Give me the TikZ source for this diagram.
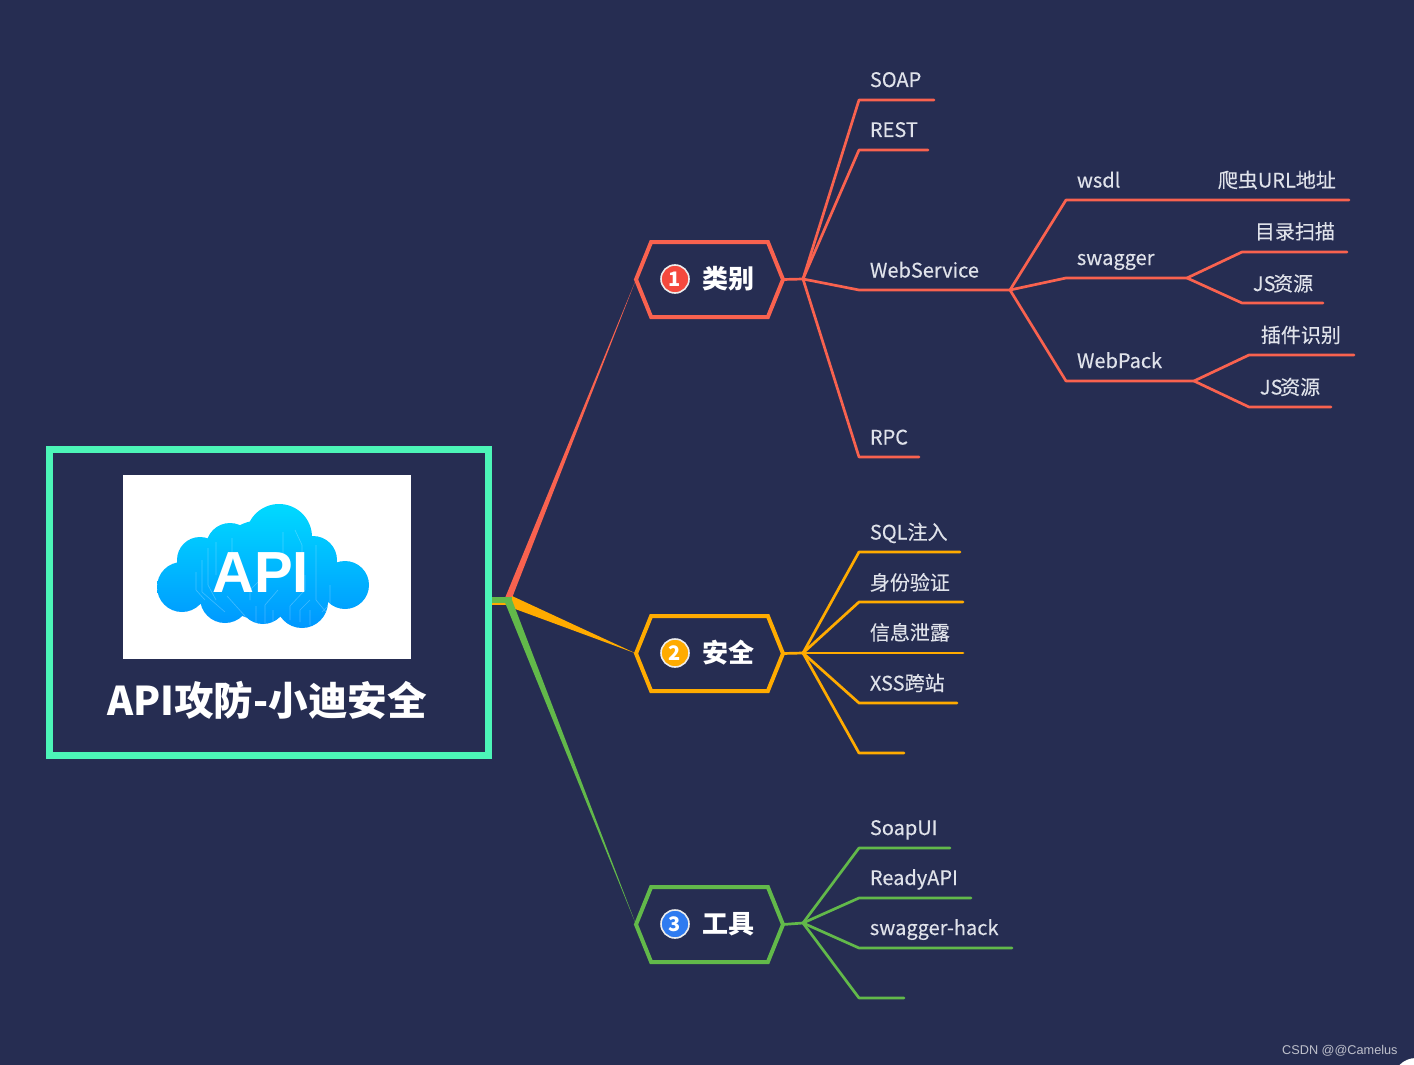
\documentclass[tikz,border=0pt]{standalone}
\usepackage{fontspec}
\setmainfont{Noto Sans CJK SC}
\newfontfamily\markfont{Liberation Sans}
\usetikzlibrary{shapes.symbols}
\definecolor{bgc}{HTML}{262D52}
\definecolor{mint}{HTML}{4CF5B8}
\definecolor{redc}{HTML}{F9624F}
\definecolor{orgc}{HTML}{FFAB00}
\definecolor{grnc}{HTML}{62B94A}
\definecolor{txtc}{HTML}{DFE2EA}
\definecolor{badgeR}{HTML}{F5493D}
\definecolor{badgeB}{HTML}{2F7BF0}
\tikzset{
  hexbox/.style={draw=#1,line width=2pt,signal,signal to=east and west,signal pointer angle=136,
     minimum width=147*0.5pt,minimum height=75*0.5pt,inner sep=0pt,outer sep=0pt,line join=miter},
  branch/.style={draw=#1,line width=1.35pt,line join=round,line cap=round},
  leaf/.style={anchor=base west,text=txtc,inner sep=0pt,font=\fontsize{10}{12}\selectfont\addfontfeature{FakeBold=0.25}},
  hextext/.style={anchor=center,text=white,inner sep=0pt,font=\fontsize{13}{15}\selectfont\bfseries},
  badge/.style={circle,draw=white!85!gray,line width=0.8pt,fill=#1,minimum size=14pt,inner sep=0pt,
     text=white,font=\fontsize{10}{12}\selectfont\bfseries}
}
\begin{document}
\begin{tikzpicture}[x=0.5pt,y=-0.5pt]
\fill[bgc] (0,0) rectangle (1414,1065);
\useasboundingbox (0,0) rectangle (1414,1065);
% root
\node[draw=mint,line width=3.5pt,minimum width=439.5*0.5pt,minimum height=306*0.5pt,inner sep=0pt,outer sep=0pt] (root) at (268.75,602.5) {};
\node[fill=white,minimum width=288*0.5pt,minimum height=184*0.5pt,inner sep=0pt] (img) at (267,567) {};
\begin{scope}
\clip (182,587) circle[radius=25] (279,537) circle[radius=33] (230,547) circle[radius=24]
      (200,560) circle[radius=23] (313,560) circle[radius=24] (345,585) circle[radius=24]
      (225,598) circle[radius=25] (263,600) circle[radius=24] (302,602) circle[radius=26]
      (262,570) circle[radius=50] (215,575) circle[radius=30] (310,575) circle[radius=30];
\shade[top color={rgb,255:red,0;green,218;blue,255},bottom color={rgb,255:red,0;green,150;blue,255}] (150,503) rectangle (375,630);
\draw[white,opacity=.25,line width=.3pt]
  (196,572)--(196,590)--(205,600)  (202,560)--(202,592)--(225,612)
  (208,548)--(208,585)--(216,600)  (216,542)--(216,575)
  (232,538)--(232,560)  (227,596)--(245,616)--(245,625)
  (250,600)--(250,590)--(262,578)  (256,628)--(256,606)  (265,628)--(265,605)--(278,590)
  (273,628)--(273,610)  (283,532)--(283,560)  (295,530)--(302,545)--(302,570)
  (290,620)--(290,606)--(305,590)--(305,575)  (300,622)--(300,610)--(310,600)
  (310,625)--(310,610)  (316,545)--(316,600)--(326,612)  (330,585)--(330,604)--(322,612);
\end{scope}
\node[text=white,inner sep=0pt,font=\fontsize{29}{34}\selectfont\markfont\bfseries] (apilogo) at (260.5,573) {API};
\node[text=white,inner sep=0pt,font=\fontsize{19.8}{24}\selectfont\bfseries] (title) at (267,700) {API攻防-小迪安全};
% hexagons
\node[hexbox=redc] (h1) at (709.5,279.5) {};
\node[hexbox=orgc] (h2) at (709.5,653.5) {};
\node[hexbox=grnc] (h3) at (709.5,924.5) {};
\node[badge=badgeR] (b1) at (675,279) {1};
\node[badge=orgc] (b2) at (675,653) {2};
\node[badge=badgeB] (b3) at (675,924) {3};
\node[hextext] (t1) at (728,279) {类别};
\node[hextext] (t2) at (728,653) {安全};
\node[hextext] (t3) at (728,924) {工具};
% main tapered branches
\coordinate (trunkL) at (492,601);
\coordinate (trunkR) at (509,601);
\coordinate (trunkG) at (492,600);
\draw[orgc,line width=4pt] (trunkL) -- (trunkR);
\coordinate (ra) at (505,598); \coordinate (rb) at (512,598);
\coordinate (oa) at (512,596); \coordinate (ob) at (507,606);
\coordinate (ga) at (504,600); \coordinate (gb) at (512,600);
\fill[redc] (ra) -- (h1.west) -- (rb) -- cycle;
\fill[orgc] (oa) -- (h2.west) -- (ob) -- cycle;
\draw[grnc,line width=3pt] (trunkG) -- (gb);
\fill[grnc] (ga) -- (h3.west) -- (gb) -- cycle;
% branch 1
\coordinate (f1) at (803,279);
\coordinate (a1) at (859,100); \coordinate (a2) at (859,150); \coordinate (a3) at (859,290); \coordinate (a4) at (859,457);
\coordinate (e1) at (934,100); \coordinate (e2) at (928,150); \coordinate (f2) at (1010,290); \coordinate (e4) at (919,457);
\coordinate (c1) at (1066,200); \coordinate (c2) at (1066,278); \coordinate (c3) at (1066,381);
\coordinate (e5) at (1349,200); \coordinate (f3) at (1187,278); \coordinate (f4) at (1194,381);
\coordinate (d1) at (1242,252); \coordinate (d2) at (1242,303); \coordinate (d3) at (1249,355); \coordinate (d4) at (1249,407);
\coordinate (e6) at (1347,252); \coordinate (e7) at (1323,303); \coordinate (e8) at (1354,355); \coordinate (e9) at (1331,407);
\draw[branch=redc] (h1.east) -- (f1);
\draw[branch=redc] (f1) -- (a1) -- (e1);
\draw[branch=redc] (f1) -- (a2) -- (e2);
\draw[branch=redc] (f1) -- (a3) -- (f2);
\draw[branch=redc] (f1) -- (a4) -- (e4);
\draw[branch=redc] (f2) -- (c1) -- (e5);
\draw[branch=redc] (f2) -- (c2) -- (f3);
\draw[branch=redc] (f2) -- (c3) -- (f4);
\draw[branch=redc] (f3) -- (d1) -- (e6);
\draw[branch=redc] (f3) -- (d2) -- (e7);
\draw[branch=redc] (f4) -- (d3) -- (e8);
\draw[branch=redc] (f4) -- (d4) -- (e9);
\node[leaf] (soap) at (869.5,87) {SOAP};
\node[leaf] (rest) at (869.5,137) {REST};
\node[leaf] (ws) at (869.5,277.5) {WebService};
\node[leaf] (rpc) at (869.5,444.5) {RPC};
\node[leaf] (wsdl) at (1076.5,187.5) {wsdl};
\node[leaf] (crawl) at (1217.5,187.5) {爬虫URL地址};
\node[leaf] (swag) at (1076.5,265) {swagger};
\node[leaf] (dir) at (1254.5,239) {目录扫描};
\node[leaf] (js1) at (1252.5,291) {JS\hspace{-1.2pt}资源};
\node[leaf] (wp) at (1076.5,368) {WebPack};
\node[leaf] (plug) at (1260.5,342.5) {插件识别};
\node[leaf] (js2) at (1259.5,394.5) {JS\hspace{-1.2pt}资源};
% branch 2
\coordinate (f5) at (803,653);
\coordinate (o1) at (859,552); \coordinate (o2) at (859,602); \coordinate (o3) at (859,653); \coordinate (o4) at (859,703); \coordinate (o5) at (859,753);
\coordinate (p1) at (960,552); \coordinate (p2) at (963,602); \coordinate (p3) at (963,653); \coordinate (p4) at (957,703); \coordinate (p5) at (904,753);
\draw[branch=orgc] (h2.east) -- (f5);
\foreach \i in {1,...,5} {\draw[branch=orgc] (f5) -- (o\i) -- (p\i);}
\node[leaf] (sql) at (869.5,539.5) {SQL注入};
\node[leaf] (auth) at (869.5,590) {身份验证};
\node[leaf] (info) at (869.5,640) {信息泄露};
\node[leaf] (xss) at (869.5,690.5) {XSS跨站};
% branch 3
\coordinate (f6) at (803,923);
\coordinate (g1) at (859,848); \coordinate (g2) at (859,898); \coordinate (g3) at (859,948); \coordinate (g4) at (859,998);
\coordinate (q1) at (950,848); \coordinate (q2) at (971,898); \coordinate (q3) at (1012,948); \coordinate (q4) at (904,998);
\draw[branch=grnc] (h3.east) -- (f6);
\foreach \i in {1,...,4} {\draw[branch=grnc] (f6) -- (g\i) -- (q\i);}
\node[leaf] (sui) at (869.5,835) {SoapUI};
\node[leaf] (rapi) at (869.5,885) {ReadyAPI};
\node[leaf] (shack) at (869.5,935) {swagger-hack};
% watermark and corner
\node[anchor=base east,inner sep=0pt,text=white!70!bgc,font=\fontsize{6.35}{8}\markfont] (mark) at (1398,1054) {CSDN @@Camelus};
\begin{scope}
\clip (0,0) rectangle (1414,1065);
\fill[white] (1416,1081) circle[radius=23];
\end{scope}
\end{tikzpicture}
\end{document}
